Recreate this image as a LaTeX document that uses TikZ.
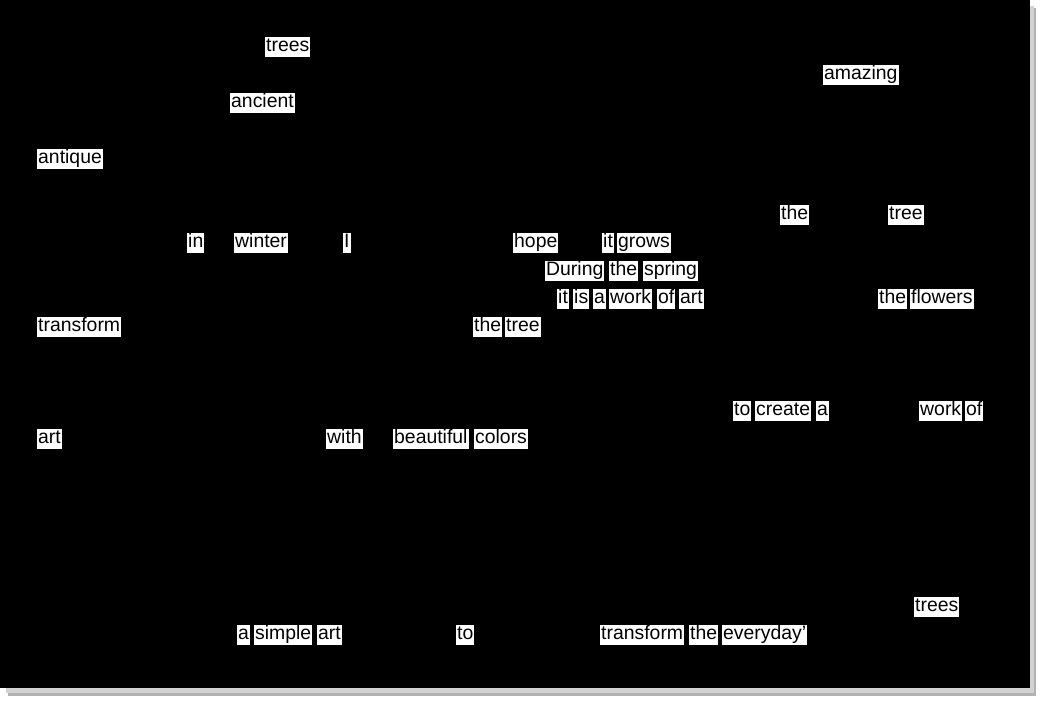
\documentclass[tikz,border=0pt]{standalone}
\usepackage{fontspec}
\setmainfont{Liberation Sans}
\begin{document}
\begin{tikzpicture}[x=1pt,y=-1pt,
  w/.style={fill=white,anchor=west,inner xsep=1pt,inner ysep=0pt,text height=14.5pt,text depth=5pt,font=\fontsize{19.4}{21}\selectfont}]
\useasboundingbox (0,0) rectangle (1044,703);
\fill[gray!60] (8,8) rectangle (1036,696);
\fill[gray!35] (6,6) rectangle (1034,693);
\fill[black] (0,0) rectangle (1030,688);
\foreach \t/\x/\y [count=\i] in {trees/265/45, amazing/823/73, ancient/230/101, antique/37/157,
 the/780/213, tree/888/213, in/187/241, winter/234/241, I/343/241, hope/513/241, it/602/241, grows/617/241,
 During/545/269, the/609/269, spring/643/269,
 it/557/297, is/573/297, a/593/297, work/609/297, of/657/297, art/679/297, the/878/297, flowers/910/297,
 transform/37/325, the/473/325, tree/505/325,
 to/733/409, create/755/409, a/816/409, work/919/409, of/965/409,
 art/37/437, with/326/437, beautiful/393/437, colors/474/437,
 trees/914/605,
 a/237/633, simple/254/633, art/317/633, to/456/633, transform/600/633, the/689/633, everyday'/722/633}
 \node[w] (n\i) at (\x,\y+2) {\t};
\end{tikzpicture}
\end{document}
